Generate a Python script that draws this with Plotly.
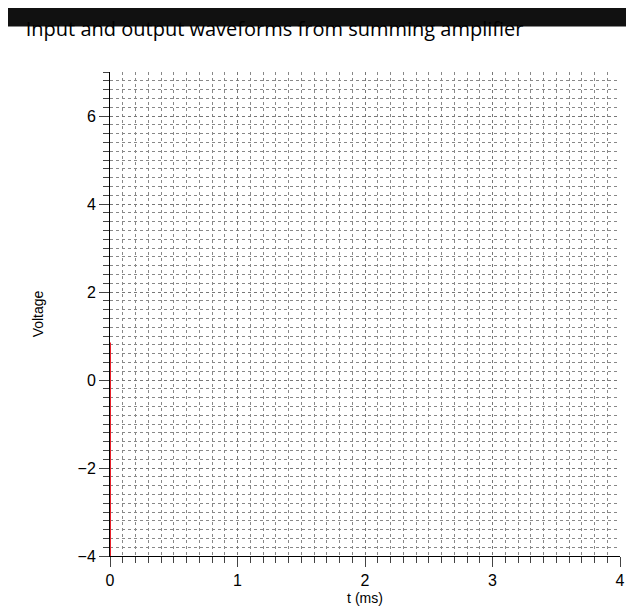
import plotly.graph_objects as go

t_ms = [0.0, 0.0]
v_out = [-4.0, 0.85]

fig = go.Figure()
fig.add_trace(go.Scatter(x=t_ms, y=v_out, mode="lines", line=dict(color="#e8202a", width=2), showlegend=False))

fig.update_layout(
    width=634, height=613, plot_bgcolor="white", paper_bgcolor="white",
    margin=dict(l=102, r=22, t=64, b=65, autoexpand=False),
    title=dict(text="Input and output waveforms from summing amplifier", x=0.028, xanchor="left", y=0.965, yanchor="middle",
               font=dict(family="Open Sans", size=20, color="black")),
    font=dict(family="Liberation Sans", color="black", size=16),
    shapes=[dict(type="rect", xref="paper", yref="paper", x0=-0.2, x1=1.1, y0=1.094, y1=1.2, fillcolor="#111", line_width=0, layer="above"),
            dict(type="line", xref="paper", yref="paper", x0=-0.2, x1=1.1, y0=-0.125, y1=-0.125, line=dict(color="#a8cbe8", width=2))],
)
fig.update_xaxes(range=[0, 4], dtick=1, ticks="outside", ticklen=10, showline=True, linecolor="black", linewidth=1, automargin=False,
                 showgrid=True, gridcolor="#777", griddash="dot", gridwidth=1, zeroline=False,
                 minor=dict(dtick=0.1, ticks="outside", ticklen=6, showgrid=True, gridcolor="#888", griddash="dot"),
                 title=dict(text="t (ms)", standoff=4, font=dict(size=14)))
fig.update_yaxes(range=[-4, 7], dtick=2, tick0=0, ticks="outside", ticklen=10, showline=True, linecolor="black", linewidth=1, automargin=False,
                 showgrid=True, gridcolor="#777", griddash="dot", gridwidth=1, zeroline=False,
                 minor=dict(dtick=0.2, ticks="outside", ticklen=6, showgrid=True, gridcolor="#888", griddash="dot"),
                 title=dict(text="Voltage", standoff=30, font=dict(size=14)))
fig.write_html("out.html")
